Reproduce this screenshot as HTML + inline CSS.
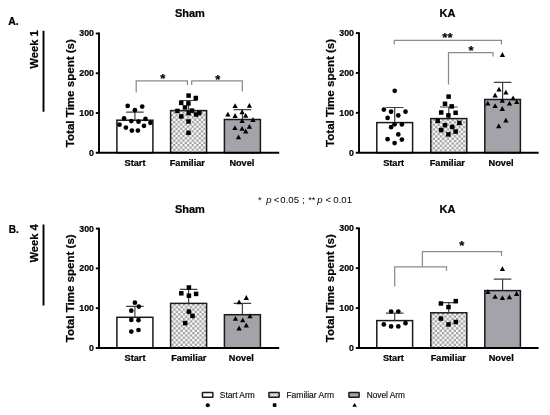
<!DOCTYPE html>
<html><head><meta charset="utf-8"><title>Figure</title>
<style>html,body{margin:0;padding:0;background:#fff;}body{width:550px;height:415px;overflow:hidden;}svg{display:block;}</style></head><body>
<svg width="550" height="415" viewBox="0 0 550 415" font-family="'Liberation Sans', Arial, sans-serif">
<defs><pattern id="chkTL" patternUnits="userSpaceOnUse" width="4.63" height="4.63" x="173.09" y="139.44"><rect width="4.63" height="4.63" fill="#fff"/><rect width="2.315" height="2.315" fill="#a0a0a0"/><rect x="2.315" y="2.315" width="2.315" height="2.315" fill="#a0a0a0"/></pattern><pattern id="chkTR" patternUnits="userSpaceOnUse" width="4.69" height="4.69" x="435.03" y="139.93"><rect width="4.69" height="4.69" fill="#fff"/><rect width="2.345" height="2.345" fill="#a0a0a0"/><rect x="2.345" y="2.345" width="2.345" height="2.345" fill="#a0a0a0"/></pattern><pattern id="chkBL" patternUnits="userSpaceOnUse" width="4.7" height="4.7" x="173.42" y="331.93"><rect width="4.7" height="4.7" fill="#fff"/><rect width="2.35" height="2.35" fill="#a0a0a0"/><rect x="2.35" y="2.35" width="2.35" height="2.35" fill="#a0a0a0"/></pattern><pattern id="chkBR" patternUnits="userSpaceOnUse" width="4.72" height="4.72" x="432.42" y="331.92"><rect width="4.72" height="4.72" fill="#fff"/><rect width="2.36" height="2.36" fill="#a0a0a0"/><rect x="2.36" y="2.36" width="2.36" height="2.36" fill="#a0a0a0"/></pattern><pattern id="chk" patternUnits="userSpaceOnUse" width="4.6" height="4.6" x="-1.15" y="-1.15"><rect width="4.6" height="4.6" fill="#fff"/><rect width="2.3" height="2.3" fill="#a0a0a0"/><rect x="2.3" y="2.3" width="2.3" height="2.3" fill="#a0a0a0"/></pattern><pattern id="chkLG" patternUnits="userSpaceOnUse" width="3.2" height="3.2" x="269.70" y="394.20"><rect width="3.2" height="3.2" fill="#fff"/><rect width="1.6" height="1.6" fill="#b0b0b0"/><rect x="1.6" y="1.6" width="1.6" height="1.6" fill="#b0b0b0"/></pattern></defs>
<style>.b{font-weight:bold;stroke:#000;stroke-width:0.22px;}.lg{stroke:#222;stroke-width:0.14px;}</style>
<rect width="550" height="415" fill="#fff"/>
<rect x="116.90" y="120.20" width="36.00" height="32.60" fill="#ffffff" stroke="#1a1a1a" stroke-width="1.5"/>
<rect x="170.60" y="110.60" width="36.00" height="42.20" fill="url(#chkTL)" stroke="#1a1a1a" stroke-width="1.5"/>
<rect x="224.40" y="119.50" width="36.00" height="33.30" fill="#a4a3a9" stroke="#1a1a1a" stroke-width="1.5"/>
<path d="M134.90 120.20V112.20M126.10 112.20H143.70" stroke="#404040" stroke-width="1.2" fill="none"/>
<path d="M188.60 110.60V100.50M179.80 100.50H197.40" stroke="#404040" stroke-width="1.2" fill="none"/>
<path d="M242.40 119.50V109.60M233.60 109.60H251.20" stroke="#404040" stroke-width="1.2" fill="none"/>
<g fill="#000">
<circle cx="127.7" cy="105.9" r="2.35"/>
<circle cx="142.2" cy="106.6" r="2.35"/>
<circle cx="134.9" cy="110.2" r="2.35"/>
<circle cx="124.1" cy="118.3" r="2.35"/>
<circle cx="131.3" cy="121.1" r="2.35"/>
<circle cx="138.5" cy="121.7" r="2.35"/>
<circle cx="145.5" cy="118.9" r="2.35"/>
<circle cx="150.4" cy="122.8" r="2.35"/>
<circle cx="119.5" cy="124.7" r="2.35"/>
<circle cx="125.9" cy="127.6" r="2.35"/>
<circle cx="144.0" cy="125.8" r="2.35"/>
<circle cx="131.9" cy="130.6" r="2.35"/>
<circle cx="137.9" cy="130.6" r="2.35"/>
<rect x="186.35" y="93.35" width="4.5" height="4.5"/>
<rect x="193.55" y="95.75" width="4.5" height="4.5"/>
<rect x="178.95" y="100.65" width="4.5" height="4.5"/>
<rect x="186.15" y="101.15" width="4.5" height="4.5"/>
<rect x="182.75" y="105.15" width="4.5" height="4.5"/>
<rect x="175.15" y="108.65" width="4.5" height="4.5"/>
<rect x="186.35" y="110.85" width="4.5" height="4.5"/>
<rect x="189.75" y="108.35" width="4.5" height="4.5"/>
<rect x="193.85" y="112.25" width="4.5" height="4.5"/>
<rect x="197.05" y="110.75" width="4.5" height="4.5"/>
<rect x="179.05" y="114.15" width="4.5" height="4.5"/>
<rect x="186.25" y="119.25" width="4.5" height="4.5"/>
<rect x="186.25" y="130.55" width="4.5" height="4.5"/>
<polygon points="232.45,108.10 237.75,108.10 235.10,103.30"/>
<polygon points="246.75,107.80 252.05,107.80 249.40,103.00"/>
<polygon points="239.45,114.30 244.75,114.30 242.10,109.50"/>
<polygon points="225.25,116.50 230.55,116.50 227.90,111.70"/>
<polygon points="232.45,117.90 237.75,117.90 235.10,113.10"/>
<polygon points="243.05,117.70 248.35,117.70 245.70,112.90"/>
<polygon points="250.35,121.90 255.65,121.90 253.00,117.10"/>
<polygon points="239.45,123.10 244.75,123.10 242.10,118.30"/>
<polygon points="232.25,130.00 237.55,130.00 234.90,125.20"/>
<polygon points="239.45,130.70 244.75,130.70 242.10,125.90"/>
<polygon points="246.75,128.80 252.05,128.80 249.40,124.00"/>
<polygon points="243.05,133.40 248.35,133.40 245.70,128.60"/>
<polygon points="235.85,139.20 241.15,139.20 238.50,134.40"/>
</g>
<path d="M99.00 32.60V152.80M95.80 152.80H279.20" stroke="#000" stroke-width="1.9" fill="none"/>
<path d="M95.80 113.03H99.00" stroke="#000" stroke-width="1.9"/>
<path d="M95.80 73.27H99.00" stroke="#000" stroke-width="1.9"/>
<path d="M95.80 33.50H99.00" stroke="#000" stroke-width="1.9"/>
<text x="94.00" y="155.70" text-anchor="end" font-size="8.8" class="b">0</text>
<text x="94.00" y="115.93" text-anchor="end" font-size="8.8" class="b">100</text>
<text x="94.00" y="76.17" text-anchor="end" font-size="8.8" class="b">200</text>
<text x="94.00" y="36.40" text-anchor="end" font-size="8.8" class="b">300</text>
<text x="135.00" y="166.10" text-anchor="middle" font-size="9.2" class="b">Start</text>
<text x="187.30" y="166.10" text-anchor="middle" font-size="9.2" class="b">Familiar</text>
<text x="241.90" y="166.10" text-anchor="middle" font-size="9.2" class="b">Novel</text>
<text transform="translate(73.70 93.15) rotate(-90)" text-anchor="middle" font-size="11.55" class="b">Total Time spent (s)</text>
<text x="189.90" y="16.60" text-anchor="middle" font-size="11.0" class="b">Sham</text>
<path d="M136.20 92.45V80.95H187.40V84.95" stroke="#8c8c8c" stroke-width="1.25" fill="none"/>
<path d="M191.70 84.95V80.95H242.30V91.45" stroke="#8c8c8c" stroke-width="1.25" fill="none"/>
<text x="162.70" y="83.00" text-anchor="middle" font-size="13" class="b">*</text>
<text x="217.90" y="83.90" text-anchor="middle" font-size="13" class="b">*</text>
<rect x="376.80" y="122.60" width="35.80" height="30.10" fill="#ffffff" stroke="#1a1a1a" stroke-width="1.5"/>
<rect x="430.80" y="118.60" width="36.00" height="34.10" fill="url(#chkTR)" stroke="#1a1a1a" stroke-width="1.5"/>
<rect x="484.80" y="99.50" width="35.60" height="53.20" fill="#a4a3a9" stroke="#1a1a1a" stroke-width="1.5"/>
<path d="M394.70 122.60V107.50M385.90 107.50H403.50" stroke="#404040" stroke-width="1.2" fill="none"/>
<path d="M448.80 118.60V107.00M440.00 107.00H457.60" stroke="#404040" stroke-width="1.2" fill="none"/>
<path d="M502.60 99.50V82.40M493.80 82.40H511.40" stroke="#404040" stroke-width="1.2" fill="none"/>
<g fill="#000">
<circle cx="394.7" cy="90.8" r="2.35"/>
<circle cx="383.9" cy="109.6" r="2.35"/>
<circle cx="391.1" cy="111.7" r="2.35"/>
<circle cx="405.5" cy="111.7" r="2.35"/>
<circle cx="398.3" cy="115.4" r="2.35"/>
<circle cx="387.6" cy="117.9" r="2.35"/>
<circle cx="394.6" cy="124.3" r="2.35"/>
<circle cx="401.9" cy="124.4" r="2.35"/>
<circle cx="391.1" cy="127.2" r="2.35"/>
<circle cx="398.3" cy="134.4" r="2.35"/>
<circle cx="387.6" cy="139.2" r="2.35"/>
<circle cx="401.9" cy="139.6" r="2.35"/>
<circle cx="394.6" cy="143.1" r="2.35"/>
<rect x="446.35" y="94.35" width="4.5" height="4.5"/>
<rect x="442.75" y="101.55" width="4.5" height="4.5"/>
<rect x="449.45" y="104.15" width="4.5" height="4.5"/>
<rect x="438.95" y="110.25" width="4.5" height="4.5"/>
<rect x="453.35" y="110.55" width="4.5" height="4.5"/>
<rect x="446.15" y="113.15" width="4.5" height="4.5"/>
<rect x="435.45" y="118.65" width="4.5" height="4.5"/>
<rect x="457.15" y="120.65" width="4.5" height="4.5"/>
<rect x="442.75" y="122.95" width="4.5" height="4.5"/>
<rect x="449.95" y="124.65" width="4.5" height="4.5"/>
<rect x="438.95" y="127.85" width="4.5" height="4.5"/>
<rect x="453.35" y="129.35" width="4.5" height="4.5"/>
<rect x="446.15" y="132.15" width="4.5" height="4.5"/>
<polygon points="499.75,56.90 505.05,56.90 502.40,52.10"/>
<polygon points="496.35,91.60 501.65,91.60 499.00,86.80"/>
<polygon points="503.25,94.50 508.55,94.50 505.90,89.70"/>
<polygon points="492.45,97.40 497.75,97.40 495.10,92.60"/>
<polygon points="510.45,100.20 515.75,100.20 513.10,95.40"/>
<polygon points="499.65,102.70 504.95,102.70 502.30,97.90"/>
<polygon points="485.15,105.60 490.45,105.60 487.80,100.80"/>
<polygon points="492.45,108.00 497.75,108.00 495.10,103.20"/>
<polygon points="506.85,105.60 512.15,105.60 509.50,100.80"/>
<polygon points="514.05,104.10 519.35,104.10 516.70,99.30"/>
<polygon points="499.65,110.90 504.95,110.90 502.30,106.10"/>
<polygon points="503.25,122.50 508.55,122.50 505.90,117.70"/>
<polygon points="496.05,128.30 501.35,128.30 498.70,123.50"/>
</g>
<path d="M359.00 32.20V152.70M355.80 152.70H538.60" stroke="#000" stroke-width="1.9" fill="none"/>
<path d="M355.80 112.83H359.00" stroke="#000" stroke-width="1.9"/>
<path d="M355.80 72.97H359.00" stroke="#000" stroke-width="1.9"/>
<path d="M355.80 33.10H359.00" stroke="#000" stroke-width="1.9"/>
<text x="354.00" y="155.60" text-anchor="end" font-size="8.8" class="b">0</text>
<text x="354.00" y="115.73" text-anchor="end" font-size="8.8" class="b">100</text>
<text x="354.00" y="75.87" text-anchor="end" font-size="8.8" class="b">200</text>
<text x="354.00" y="36.00" text-anchor="end" font-size="8.8" class="b">300</text>
<text x="393.60" y="166.00" text-anchor="middle" font-size="9.2" class="b">Start</text>
<text x="447.30" y="166.00" text-anchor="middle" font-size="9.2" class="b">Familiar</text>
<text x="501.10" y="166.00" text-anchor="middle" font-size="9.2" class="b">Novel</text>
<text transform="translate(333.50 92.90) rotate(-90)" text-anchor="middle" font-size="11.55" class="b">Total Time spent (s)</text>
<text x="447.40" y="16.60" text-anchor="middle" font-size="11.0" class="b">KA</text>
<path d="M394.20 44.50V40.30H501.40V44.50" stroke="#8c8c8c" stroke-width="1.25" fill="none"/>
<path d="M448.50 84.60V52.50H493.00V56.60" stroke="#8c8c8c" stroke-width="1.25" fill="none"/>
<text x="447.40" y="42.40" text-anchor="middle" font-size="13" class="b">**</text>
<text x="471.00" y="54.50" text-anchor="middle" font-size="13" class="b">*</text>
<rect x="116.90" y="317.30" width="36.00" height="30.70" fill="#ffffff" stroke="#1a1a1a" stroke-width="1.5"/>
<rect x="170.60" y="303.40" width="36.00" height="44.60" fill="url(#chkBL)" stroke="#1a1a1a" stroke-width="1.5"/>
<rect x="224.40" y="314.70" width="36.00" height="33.30" fill="#a4a3a9" stroke="#1a1a1a" stroke-width="1.5"/>
<path d="M134.90 317.30V306.30M126.10 306.30H143.70" stroke="#404040" stroke-width="1.2" fill="none"/>
<path d="M188.60 303.40V289.40M179.80 289.40H197.40" stroke="#404040" stroke-width="1.2" fill="none"/>
<path d="M242.40 314.70V303.30M233.60 303.30H251.20" stroke="#404040" stroke-width="1.2" fill="none"/>
<g fill="#000">
<circle cx="134.9" cy="302.7" r="2.35"/>
<circle cx="138.8" cy="306.6" r="2.35"/>
<circle cx="131.3" cy="310.7" r="2.35"/>
<circle cx="131.3" cy="319.9" r="2.35"/>
<circle cx="138.5" cy="320.2" r="2.35"/>
<circle cx="131.3" cy="331.6" r="2.35"/>
<circle cx="138.5" cy="330.0" r="2.35"/>
<rect x="186.65" y="285.25" width="4.5" height="4.5"/>
<rect x="179.05" y="291.05" width="4.5" height="4.5"/>
<rect x="193.85" y="291.65" width="4.5" height="4.5"/>
<rect x="186.65" y="293.45" width="4.5" height="4.5"/>
<rect x="186.65" y="309.35" width="4.5" height="4.5"/>
<rect x="190.25" y="313.65" width="4.5" height="4.5"/>
<rect x="182.95" y="320.85" width="4.5" height="4.5"/>
<polygon points="243.65,299.90 248.95,299.90 246.30,295.10"/>
<polygon points="236.45,304.20 241.75,304.20 239.10,299.40"/>
<polygon points="247.35,318.30 252.65,318.30 250.00,313.50"/>
<polygon points="232.85,320.70 238.15,320.70 235.50,315.90"/>
<polygon points="240.05,322.30 245.35,322.30 242.70,317.50"/>
<polygon points="243.65,327.60 248.95,327.60 246.30,322.80"/>
<polygon points="236.45,330.40 241.75,330.40 239.10,325.60"/>
</g>
<path d="M99.00 227.70V348.00M95.80 348.00H279.20" stroke="#000" stroke-width="1.9" fill="none"/>
<path d="M95.80 308.20H99.00" stroke="#000" stroke-width="1.9"/>
<path d="M95.80 268.40H99.00" stroke="#000" stroke-width="1.9"/>
<path d="M95.80 228.60H99.00" stroke="#000" stroke-width="1.9"/>
<text x="94.00" y="350.90" text-anchor="end" font-size="8.8" class="b">0</text>
<text x="94.00" y="311.10" text-anchor="end" font-size="8.8" class="b">100</text>
<text x="94.00" y="271.30" text-anchor="end" font-size="8.8" class="b">200</text>
<text x="94.00" y="231.50" text-anchor="end" font-size="8.8" class="b">300</text>
<text x="135.00" y="361.30" text-anchor="middle" font-size="9.2" class="b">Start</text>
<text x="188.80" y="361.30" text-anchor="middle" font-size="9.2" class="b">Familiar</text>
<text x="241.30" y="361.30" text-anchor="middle" font-size="9.2" class="b">Novel</text>
<text transform="translate(73.70 288.30) rotate(-90)" text-anchor="middle" font-size="11.55" class="b">Total Time spent (s)</text>
<text x="189.90" y="212.90" text-anchor="middle" font-size="11.0" class="b">Sham</text>
<rect x="376.80" y="320.60" width="35.80" height="27.40" fill="#ffffff" stroke="#1a1a1a" stroke-width="1.5"/>
<rect x="430.80" y="312.80" width="36.00" height="35.20" fill="url(#chkBR)" stroke="#1a1a1a" stroke-width="1.5"/>
<rect x="484.80" y="290.60" width="35.60" height="57.40" fill="#a4a3a9" stroke="#1a1a1a" stroke-width="1.5"/>
<path d="M394.70 320.60V313.20M385.90 313.20H403.50" stroke="#404040" stroke-width="1.2" fill="none"/>
<path d="M448.80 312.80V302.70M440.00 302.70H457.60" stroke="#404040" stroke-width="1.2" fill="none"/>
<path d="M502.60 290.60V279.20M493.80 279.20H511.40" stroke="#404040" stroke-width="1.2" fill="none"/>
<g fill="#000">
<circle cx="391.1" cy="311.5" r="2.35"/>
<circle cx="398.3" cy="311.5" r="2.35"/>
<circle cx="383.8" cy="324.4" r="2.35"/>
<circle cx="391.1" cy="326.4" r="2.35"/>
<circle cx="398.3" cy="326.4" r="2.35"/>
<circle cx="405.5" cy="323.2" r="2.35"/>
<rect x="453.55" y="298.85" width="4.5" height="4.5"/>
<rect x="438.65" y="301.25" width="4.5" height="4.5"/>
<rect x="446.25" y="304.85" width="4.5" height="4.5"/>
<rect x="438.65" y="316.35" width="4.5" height="4.5"/>
<rect x="446.25" y="322.15" width="4.5" height="4.5"/>
<rect x="453.55" y="319.75" width="4.5" height="4.5"/>
<polygon points="499.75,271.10 505.05,271.10 502.40,266.30"/>
<polygon points="485.25,294.00 490.55,294.00 487.90,289.20"/>
<polygon points="492.45,298.80 497.75,298.80 495.10,294.00"/>
<polygon points="499.75,300.00 505.05,300.00 502.40,295.20"/>
<polygon points="506.75,299.20 512.05,299.20 509.40,294.40"/>
<polygon points="513.95,295.90 519.25,295.90 516.60,291.10"/>
</g>
<path d="M359.00 227.40V348.00M355.80 348.00H538.60" stroke="#000" stroke-width="1.9" fill="none"/>
<path d="M355.80 308.10H359.00" stroke="#000" stroke-width="1.9"/>
<path d="M355.80 268.20H359.00" stroke="#000" stroke-width="1.9"/>
<path d="M355.80 228.30H359.00" stroke="#000" stroke-width="1.9"/>
<text x="354.00" y="350.90" text-anchor="end" font-size="8.8" class="b">0</text>
<text x="354.00" y="311.00" text-anchor="end" font-size="8.8" class="b">100</text>
<text x="354.00" y="271.10" text-anchor="end" font-size="8.8" class="b">200</text>
<text x="354.00" y="231.20" text-anchor="end" font-size="8.8" class="b">300</text>
<text x="393.40" y="361.30" text-anchor="middle" font-size="9.2" class="b">Start</text>
<text x="448.30" y="361.30" text-anchor="middle" font-size="9.2" class="b">Familiar</text>
<text x="501.20" y="361.30" text-anchor="middle" font-size="9.2" class="b">Novel</text>
<text transform="translate(333.50 288.15) rotate(-90)" text-anchor="middle" font-size="11.55" class="b">Total Time spent (s)</text>
<text x="447.40" y="212.90" text-anchor="middle" font-size="11.0" class="b">KA</text>
<path d="M394.7 286.5V266.8H446.5V270.8M422.4 266.8V251.7H501.5V255.9" stroke="#8c8c8c" stroke-width="1.25" fill="none"/>
<text x="461.70" y="250.20" text-anchor="middle" font-size="13" class="b">*</text>
<text x="8.2" y="24.9" font-size="10.5" class="b">A.</text>
<text x="8.7" y="232.5" font-size="10" class="b">B.</text>
<text transform="translate(37.6 30.3) rotate(-90)" text-anchor="end" font-size="11.2" class="b">Week 1</text>
<text transform="translate(37.6 224.2) rotate(-90)" text-anchor="end" font-size="11.2" class="b">Week 4</text>
<path d="M43.5 30.8V111.7M43.5 224.4V305.4" stroke="#000" stroke-width="1.9"/>
<text x="258" y="203" font-size="9.2">*</text>
<text x="266.3" y="203" font-size="9.6" font-style="italic">p</text>
<text x="273.8" y="203" font-size="9.6">&lt;</text>
<text x="280.3" y="203" font-size="9.6">0.05</text>
<text x="302.3" y="203" font-size="9.6">;</text>
<text x="308.3" y="203" font-size="9.2">**</text>
<text x="317.3" y="203" font-size="9.6" font-style="italic">p</text>
<text x="325.6" y="203" font-size="9.6">&lt;</text>
<text x="333.3" y="203" font-size="9.6">0.01</text>
<rect x="202.45" y="392.55" width="10.4" height="4.8" rx="0.4" fill="#fff" stroke="#1a1a1a" stroke-width="1.5"/>
<rect x="268.95" y="392.55" width="10.2" height="4.8" rx="0.4" fill="url(#chkLG)" stroke="#1a1a1a" stroke-width="1.5"/>
<rect x="348.95" y="392.55" width="10.2" height="4.8" rx="0.4" fill="#a4a3a9" stroke="#1a1a1a" stroke-width="1.5"/>
<text x="219.8" y="398.2" font-size="8.4" class="lg">Start Arm</text>
<text x="286.4" y="398.2" font-size="8.5" class="lg">Familiar Arm</text>
<text x="366.7" y="398.2" font-size="8.3" class="lg">Novel Arm</text>
<circle cx="207.8" cy="405.2" r="2.05"/>
<rect x="272.8" y="403.3" width="3.6" height="3.6"/>
<polygon points="352.3,406.7 356.9,406.7 354.6,402.9"/>
</svg>
</body></html>
